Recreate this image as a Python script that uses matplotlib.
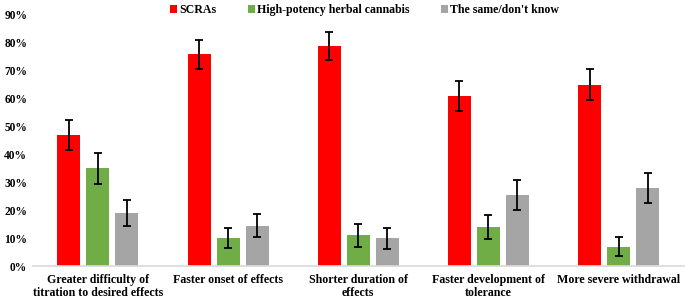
import numpy as np
import matplotlib.pyplot as plt
from matplotlib.ticker import PercentFormatter

categories = ["Greater difficulty of\ntitration to desired effects", "Faster onset of effects",
              "Shorter duration of\neffects", "Faster development of\ntolerance", "More severe withdrawal"]
series = ["SCRAs", "High-potency herbal cannabis", "The same/don't know"]
scras = [47, 76, 79, 61, 65]
herbal = [35, 10, 11, 14, 7]
same = [19, 14.5, 10, 25.5, 28]
scras_err = [5.5, 5.2, 5.0, 5.5, 5.5]
herbal_err = [5.5, 3.5, 4.2, 4.3, 3.5]
same_err = [4.7, 4.2, 3.8, 5.3, 5.3]

colors = ["#ff0000", "#70ad47", "#a5a5a5"]

plt.rcParams['font.family'] = ['Liberation Serif', 'DejaVu Serif']
plt.rcParams['font.weight'] = 'bold'

fig = plt.figure(figsize=(6.85, 2.99), dpi=100)
ax = fig.add_axes([0.048, 0.11, 0.95, 0.84])

x = np.arange(len(categories))
w = 0.177
step = 0.223
for i, (vals, errs) in enumerate([(scras, scras_err), (herbal, herbal_err), (same, same_err)]):
    ax.bar(x + (i - 1) * step, vals, w, color=colors[i], label=series[i],
           yerr=errs, error_kw=dict(ecolor='black', elinewidth=1.3, capsize=3, capthick=1.3))

ax.set_xlim(-0.5, 4.5)
ax.set_ylim(0, 90)
ax.set_yticks(np.arange(0, 91, 10))
ax.yaxis.set_major_formatter(PercentFormatter(decimals=0))
ax.set_xticks(x)
ax.set_xticklabels(categories, fontsize=8.6, fontweight='bold', linespacing=1.05)
ax.tick_params(axis='y', length=0, labelsize=8.3, pad=4)
ax.tick_params(axis='x', length=0, pad=6)
for s in ['left', 'right', 'top']:
    ax.spines[s].set_visible(False)
ax.spines['bottom'].set_color('#d9d9d9')
ax.spines['bottom'].set_linewidth(1.2)

ax.legend(loc='lower center', bbox_to_anchor=(0.51, 0.975), ncol=3, frameon=False,
          fontsize=8.6, handlelength=0.6, handleheight=0.6, handletextpad=0.2, columnspacing=2.6,
          borderaxespad=0)

fig.savefig('out.png', dpi=100)
